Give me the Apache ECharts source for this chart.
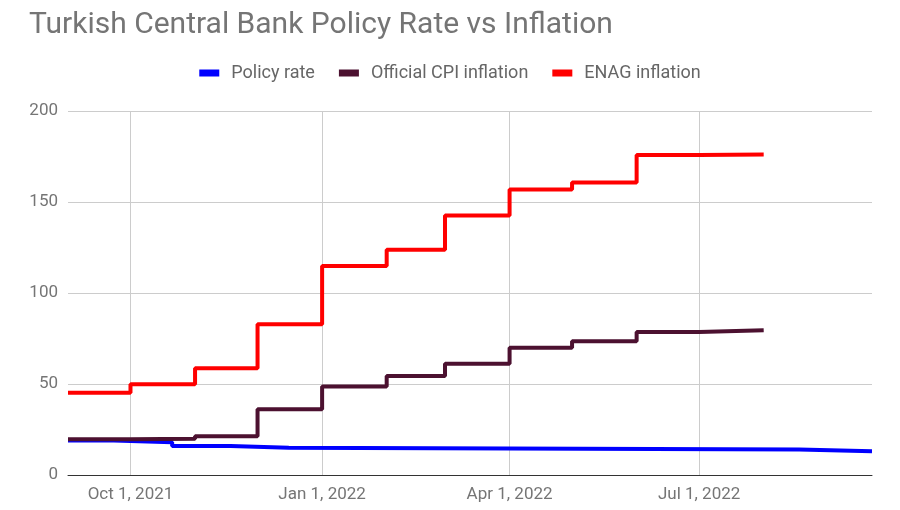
<!DOCTYPE html>
<html>
<head>
<meta charset="utf-8">
<script src="https://cdn.jsdelivr.net/npm/echarts@6/dist/echarts.min.js"></script>
<style>
  html, body {margin: 0; padding: 0; background: #fff;}
  #chart {width: 900px; height: 510px;}
</style>
</head>
<body>
<div id="chart"></div>
<script>
// monthly inflation readings, plotted from the first of each month
const months = ['2021-09-01', '2021-10-01', '2021-11-01', '2021-12-01', '2022-01-01', '2022-02-01',
  '2022-03-01', '2022-04-01', '2022-05-01', '2022-06-01', '2022-07-01', '2022-08-01'];
const cpi = [19.58, 19.89, 21.31, 36.08, 48.69, 54.44, 61.14, 69.97, 73.5, 78.62, 79.6, 79.6];
const enag = [45.2, 49.9, 58.65, 82.81, 114.87, 123.8, 142.63, 156.86, 160.76, 175.89, 176.04, 176.04];

// policy rate decisions
const rateDates = ['2021-09-01', '2021-09-23', '2021-10-21', '2021-11-18', '2021-12-16', '2022-08-18', '2022-09-22'];
const rates = [19, 18, 16, 15, 14, 13, 13];

const tickDates = ['2021-10-01', '2022-01-01', '2022-04-01', '2022-07-01'];
const yTicks = {min: 0, max: 200, interval: 50};

const monthNames = ['Jan', 'Feb', 'Mar', 'Apr', 'May', 'Jun', 'Jul', 'Aug', 'Sep', 'Oct', 'Nov', 'Dec'];
const ts = d => new Date(d + 'T00:00:00Z').getTime();

const zip = (xs, ys) => xs.map((x, i) => [ts(x), ys[i]]);

const chart = echarts.init(document.getElementById('chart'));
const font = 'Roboto';

chart.setOption({
  animation: false,
  textStyle: {fontFamily: font},
  title: {
    text: 'Turkish Central Bank Policy Rate vs Inflation',
    left: 24,
    top: 5,
    textStyle: {fontSize: 30, fontWeight: 'normal', color: '#757575', fontFamily: font}
  },
  legend: {
    top: 59,
    left: 'center',
    itemWidth: 20,
    itemHeight: 7,
    itemGap: 24,
    icon: 'rect',
    textStyle: {fontSize: 18, color: '#666', fontFamily: font, padding: [0, 0, 0, 7]},
    data: ['Policy rate', 'Official CPI inflation', 'ENAG inflation']
  },
  grid: {left: 68, right: 28, top: 111, bottom: 35, containLabel: false},
  xAxis: {
    type: 'value',
    min: ts(months[0]),
    max: ts(rateDates[rateDates.length - 1]),
    axisLine: {show: true, lineStyle: {color: '#333', width: 1}},
    axisTick: {show: false, customValues: tickDates.map(ts)},
    axisLabel: {
      customValues: tickDates.map(ts),
      color: '#757575',
      fontSize: 17,
      margin: 11,
      fontFamily: font,
      formatter(val) {
        const d = new Date(val);
        return monthNames[d.getUTCMonth()] + ' ' + d.getUTCDate() + ', ' + d.getUTCFullYear();
      }
    },
    splitLine: {show: true, lineStyle: {color: '#ccc'}}
  },
  yAxis: {
    type: 'value',
    min: yTicks.min,
    max: yTicks.max,
    interval: yTicks.interval,
    axisLine: {show: false},
    axisTick: {show: false},
    axisLabel: {color: '#757575', fontSize: 17, margin: 10, fontFamily: font},
    splitLine: {lineStyle: {color: '#ccc'}}
  },
  series: [{
    name: 'Policy rate',
    type: 'line',
    step: 'end',
    showSymbol: false,
    color: '#0000ff',
    lineStyle: {width: 4, color: '#0000ff'},
    data: zip(rateDates, rates)
  }, {
    name: 'Official CPI inflation',
    type: 'line',
    step: 'end',
    showSymbol: false,
    color: '#4c1130',
    lineStyle: {width: 4, color: '#4c1130'},
    data: zip(months, cpi)
  }, {
    name: 'ENAG inflation',
    type: 'line',
    step: 'end',
    showSymbol: false,
    color: '#ff0000',
    lineStyle: {width: 4, color: '#ff0000'},
    data: zip(months, enag)
  }]
});
</script>
</body>
</html>
